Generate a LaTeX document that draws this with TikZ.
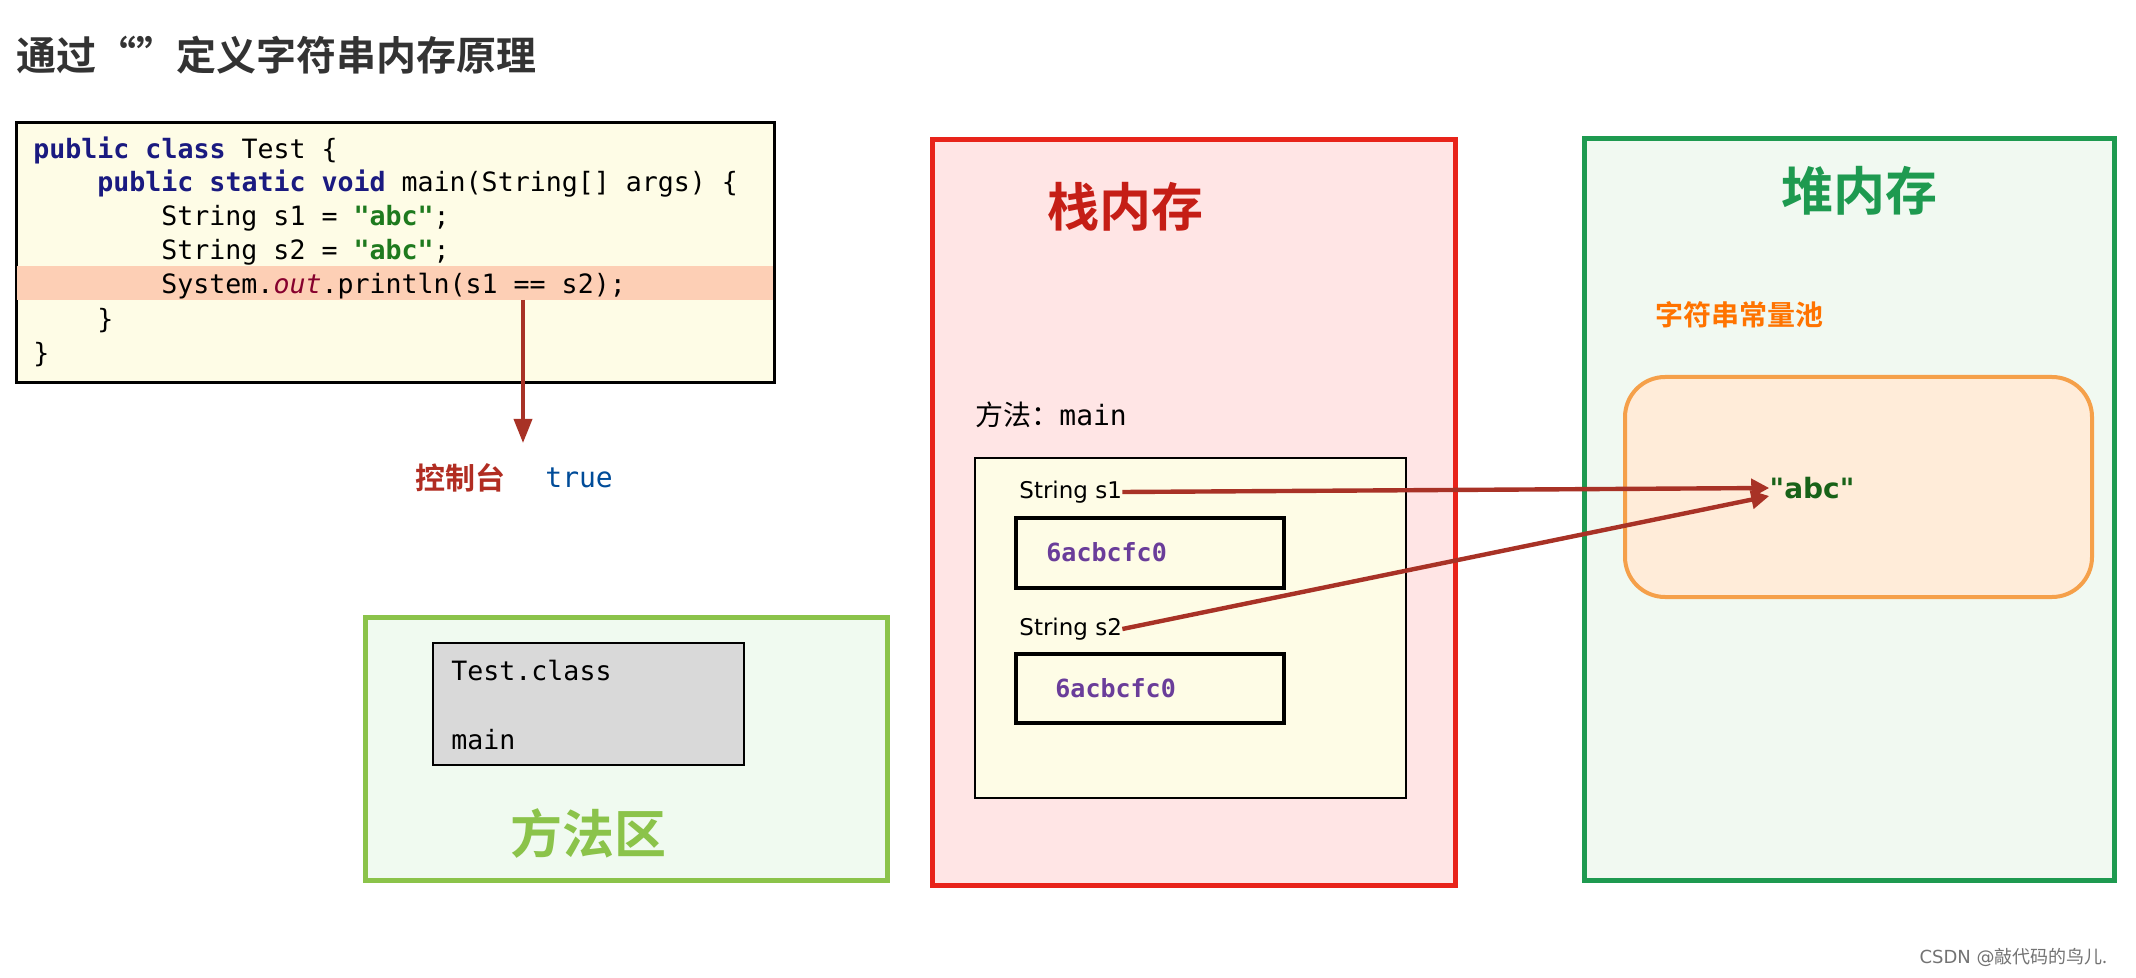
\documentclass[tikz,border=0pt]{standalone}
\usepackage{fontspec}
\setmonofont{DejaVu Sans Mono}
\setsansfont{DejaVu Sans}
\newfontfamily\qsans{DejaVu Sans}
\newfontfamily\cjk{Noto Sans CJK SC}
\newfontfamily\cjkb{Noto Sans CJK SC Bold}
\usetikzlibrary{arrows.meta}
\definecolor{kw}{HTML}{1A1A80}
\definecolor{str}{HTML}{1E7A1E}
\definecolor{arr}{HTML}{A83226}
\definecolor{codebg}{HTML}{FEFCE6}
\definecolor{hl}{HTML}{FDCFB5}
\definecolor{mgreen}{HTML}{8BC34A}
\definecolor{hgreen}{HTML}{1E9A50}
\definecolor{sred}{HTML}{E8231A}
\definecolor{purp}{HTML}{6A3D9A}
\definecolor{orng}{HTML}{F5A04A}
\tikzset{
 code/.style={anchor=west,inner sep=0pt,font=\ttfamily\fontsize{13.3}{15}\selectfont},
 ref/.style={draw=arr,line width=2.2pt,-{Triangle[length=9pt,width=9pt]}},
 title/.style={inner sep=0pt,font=\cjkb\fontsize{26}{30}\selectfont}
}
\begin{document}
\begin{tikzpicture}[x=0.5pt,y=-0.5pt]
\useasboundingbox (0,0) rectangle (2136,978);
\fill[white] (0,0) rectangle (2136,978);
% title
\node[anchor=west,inner sep=0pt,font=\cjkb\fontsize{20}{24}\selectfont,text=black!80] (t) at (16,55) {通过“”定义字符串内存原理};
% code
\draw[fill=codebg,line width=1.5pt] (16,123) rectangle (774,383);
\fill[hl] (17,266) rectangle (773,300);
\node[code] (l1) at (33,150) {\textcolor{kw}{\bfseries public class} Test \{};
\node[code] (l2) at (97,184) {\textcolor{kw}{\bfseries public static void} main(String[] args) \{};
\node[code] (l3) at (161,218) {String s1 = \textcolor{str}{\bfseries"abc"};};
\node[code] (l4) at (161,252) {String s2 = \textcolor{str}{\bfseries"abc"};};
\node[code] (l5) at (161,286) {System.\textcolor{purple!70!black}{\itshape out}.println(s1 == s2);};
\node[code] (l6) at (97,321) {\}};
\node[code] (l7) at (33,355) {\}};
\coordinate (cs) at (523,300);
\node[anchor=west,inner sep=0pt,font=\cjkb\fontsize{15}{18}\selectfont,text=arr!90!red] (con) at (415,478) {控制台};
\node[anchor=west,inner sep=0pt,font=\ttfamily\fontsize{14}{16}\selectfont,text=blue!50!cyan!60!black] (tr) at (545,478) {true};
\draw[draw=arr,line width=1.8pt,-{Triangle[length=12pt,width=9pt]}] (cs) -- (523,443);
% method area
\draw[draw=mgreen,fill=green!4!white!96!gray,line width=2.5pt] (365,617) rectangle (887,880);
\draw[fill=black!15,line width=1.2pt] (433,643) rectangle (744,765);
\node[code] (tc) at (451,671) {Test.class};
\node[code] (mm) at (451,740) {main};
\node[title,text=mgreen] (fa) at (588,834) {方法区};
% stack
\draw[draw=sred,fill=red!10,line width=2.5pt] (932,140) rectangle (1455,885);
\node[title,text=sred!85!black] (st) at (1125,207) {栈内存};
\node[anchor=west,inner sep=0pt,font=\fontsize{14}{16}\selectfont] (fm) at (975,415) {{\cjk 方法：}\ttfamily main};
\draw[fill=codebg,line width=1.2pt] (975,458) rectangle (1406,798);
\node[anchor=west,inner sep=0pt,font=\sffamily\fontsize{11.5}{14}\selectfont] (s1) at (1019,492) {String s1};
\draw[line width=1.8pt] (1016,518) rectangle (1284,588);
\node[code,text=purp,font=\ttfamily\bfseries\fontsize{12.5}{14}\selectfont] (a1) at (1046,552) {6acbcfc0};
\node[anchor=west,inner sep=0pt,font=\sffamily\fontsize{11.5}{14}\selectfont] (s2) at (1019,629) {String s2};
\draw[line width=1.8pt] (1016,654) rectangle (1284,723);
\node[code,text=purp,font=\ttfamily\bfseries\fontsize{12.5}{14}\selectfont] (a2) at (1055,688) {6acbcfc0};
% heap
\draw[draw=hgreen,fill=green!3!white!95!gray,line width=2.5pt] (1584,139) rectangle (2114,880);
\node[title,text=hgreen] (hp) at (1859,191) {堆内存};
\node[anchor=west,inner sep=0pt,font=\cjkb\fontsize{14}{16}\selectfont,text=orange!90!red] (pool) at (1655,315) {字符串常量池};
\draw[draw=orng,fill=orange!15,line width=2pt,rounded corners=20pt] (1625,377) rectangle (2092,597);
\node[inner sep=0pt,font=\qsans\bfseries\fontsize{14}{16}\selectfont,text=str!80!black] (abc) at (1812,488) {"abc"};
\draw[ref] (s1.east) -- (abc.west);
\draw[ref] (s2.east) -- ([yshift=-4pt]abc.west);
% watermark
\node[anchor=east,inner sep=0pt,font=\sffamily\fontsize{9}{11}\selectfont,text=black!55] (wm) at (2108,957) {CSDN @{\cjk 敲代码的鸟儿.}};
\end{tikzpicture}
\end{document}
